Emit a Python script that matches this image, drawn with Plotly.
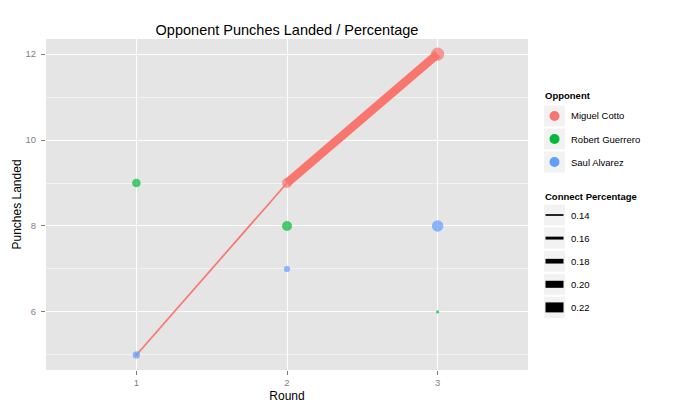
import plotly.graph_objects as go

# ---------------- data ----------------
rounds = [1, 2, 3]
opponents = ["Miguel Cotto", "Robert Guerrero", "Saul Alvarez"]
cotto_landed = [5, 9, 12]
cotto_pct = [0.14, 0.21, 0.23]
guerrero_landed = [9, 8, 6]
guerrero_pct = [0.20, 0.21, 0.14]
alvarez_landed = [5, 7, 8]
alvarez_pct = [0.19, 0.18, 0.22]
size_breaks = [0.14, 0.16, 0.18, 0.20, 0.22]
size_labels = ["0.14", "0.16", "0.18", "0.20", "0.22"]

colors = {"Miguel Cotto": "#F8766D", "Robert Guerrero": "#00BA38", "Saul Alvarez": "#619CFF"}
landed = {"Miguel Cotto": cotto_landed, "Robert Guerrero": guerrero_landed, "Saul Alvarez": alvarez_landed}
pct = {"Miguel Cotto": cotto_pct, "Robert Guerrero": guerrero_pct, "Saul Alvarez": alvarez_pct}


def line_px(p):
    # size scale: connect percentage -> stroke width in px
    d = p - 0.14
    return 1.7 + 46.25 * d + 718.75 * d * d


def point_px(p):
    return line_px(p) + 1.5


W, H = 675, 413
ML, MR, MT, MB = 46, 147, 39, 43
PW, PH = W - ML - MR, H - MT - MB
FONT = "Liberation Sans, Arial, Helvetica, sans-serif"


def px2x(px):
    return (px - ML) / PW


def px2y(py):
    return (H - MB - py) / PH


fig = go.Figure()

# Cotto line: each segment uses width of its starting point
name = "Miguel Cotto"
for i in range(len(rounds) - 1):
    fig.add_trace(go.Scatter(
        x=rounds[i:i + 2], y=landed[name][i:i + 2], mode="lines",
        line=dict(color=colors[name], width=line_px(pct[name][i])),
        showlegend=False, hoverinfo="skip"))

for name in opponents:
    fig.add_trace(go.Scatter(
        x=rounds, y=landed[name], mode="markers", name=name,
        marker=dict(color=colors[name], size=[point_px(p) for p in pct[name]], line=dict(width=0)),
        showlegend=False))

shapes = []
annotations = []

# ---- legend: Opponent ----
key_cx = 554.5
text_x = 569
annotations.append(dict(text="<b>Opponent</b>", x=px2x(543), y=px2y(95.5), xref="paper", yref="paper",
                        xanchor="left", yanchor="middle", showarrow=False,
                        font=dict(size=9.5, color="black", family=FONT)))
for i, name in enumerate(opponents):
    cy = 116 + i * 23
    shapes.append(dict(type="rect", xref="paper", yref="paper", xsizemode="pixel", ysizemode="pixel",
                       xanchor=px2x(key_cx), yanchor=px2y(cy), x0=-10.5, x1=10.5, y0=-10.5, y1=10.5,
                       fillcolor="#F2F2F2", line=dict(width=0), layer="above"))
    shapes.append(dict(type="circle", xref="paper", yref="paper", xsizemode="pixel", ysizemode="pixel",
                       xanchor=px2x(key_cx), yanchor=px2y(cy), x0=-5, x1=5, y0=-5, y1=5,
                       fillcolor=colors[name], line=dict(width=0), layer="above"))
    annotations.append(dict(text=name, x=px2x(text_x), y=px2y(cy), xref="paper", yref="paper",
                            xanchor="left", yanchor="middle", showarrow=False,
                            font=dict(size=9.5, color="black", family=FONT)))

# ---- legend: Connect Percentage ----
annotations.append(dict(text="<b>Connect Percentage</b>", x=px2x(543), y=px2y(196), xref="paper", yref="paper",
                        xanchor="left", yanchor="middle", showarrow=False,
                        font=dict(size=9.5, color="black", family=FONT)))
for i, (b, lab) in enumerate(zip(size_breaks, size_labels)):
    cy = 215 + i * 23.1
    shapes.append(dict(type="rect", xref="paper", yref="paper", xsizemode="pixel", ysizemode="pixel",
                       xanchor=px2x(key_cx), yanchor=px2y(cy), x0=-10.5, x1=10.5, y0=-10.5, y1=10.5,
                       fillcolor="#F2F2F2", line=dict(width=0), layer="above"))
    shapes.append(dict(type="line", xref="paper", yref="paper", xsizemode="pixel", ysizemode="pixel",
                       xanchor=px2x(key_cx), yanchor=px2y(cy), x0=-9, x1=9, y0=0, y1=0,
                       line=dict(color="black", width=line_px(b)), layer="above"))
    annotations.append(dict(text=lab, x=px2x(text_x), y=px2y(cy), xref="paper", yref="paper",
                            xanchor="left", yanchor="middle", showarrow=False,
                            font=dict(size=9.5, color="black", family=FONT)))

axis_common = dict(showline=False, zeroline=False, gridcolor="white", gridwidth=1.3,
                   ticks="outside", ticklen=4, tickwidth=1, tickcolor="#7F7F7F",
                   tickfont=dict(size=9.5, color="#7F7F7F", family=FONT))

fig.update_layout(
    width=W, height=H,
    margin=dict(l=ML, r=MR, t=MT, b=MB, autoexpand=False),
    paper_bgcolor="white", plot_bgcolor="#E5E5E5",
    font=dict(family=FONT, color="black"),
    title=dict(text="Opponent Punches Landed / Percentage", x=px2x(287), xref="paper", xanchor="center",
               y=1 - 30 / H, yref="container", yanchor="middle",
               font=dict(size=14.5, color="black", family=FONT)),
    xaxis=dict(range=[0.4, 3.6], tickvals=rounds, ticktext=[str(r) for r in rounds],
               title=dict(text="Round", standoff=4, font=dict(size=12, color="black", family=FONT)),
               **axis_common),
    yaxis=dict(range=[4.65, 12.35], tickvals=[6, 8, 10, 12], ticklabelstandoff=3,
               minor=dict(tickvals=[5, 7, 9, 11], showgrid=True, gridcolor="#F2F2F2", gridwidth=0.6, ticks=""),
               title=dict(text="Punches Landed", standoff=1, font=dict(size=12, color="black", family=FONT)),
               **axis_common),
    shapes=shapes,
    annotations=annotations,
    showlegend=False,
)

fig.write_html("out.html", config={"displayModeBar": False},
               post_script="document.body.style.margin='0px';")
